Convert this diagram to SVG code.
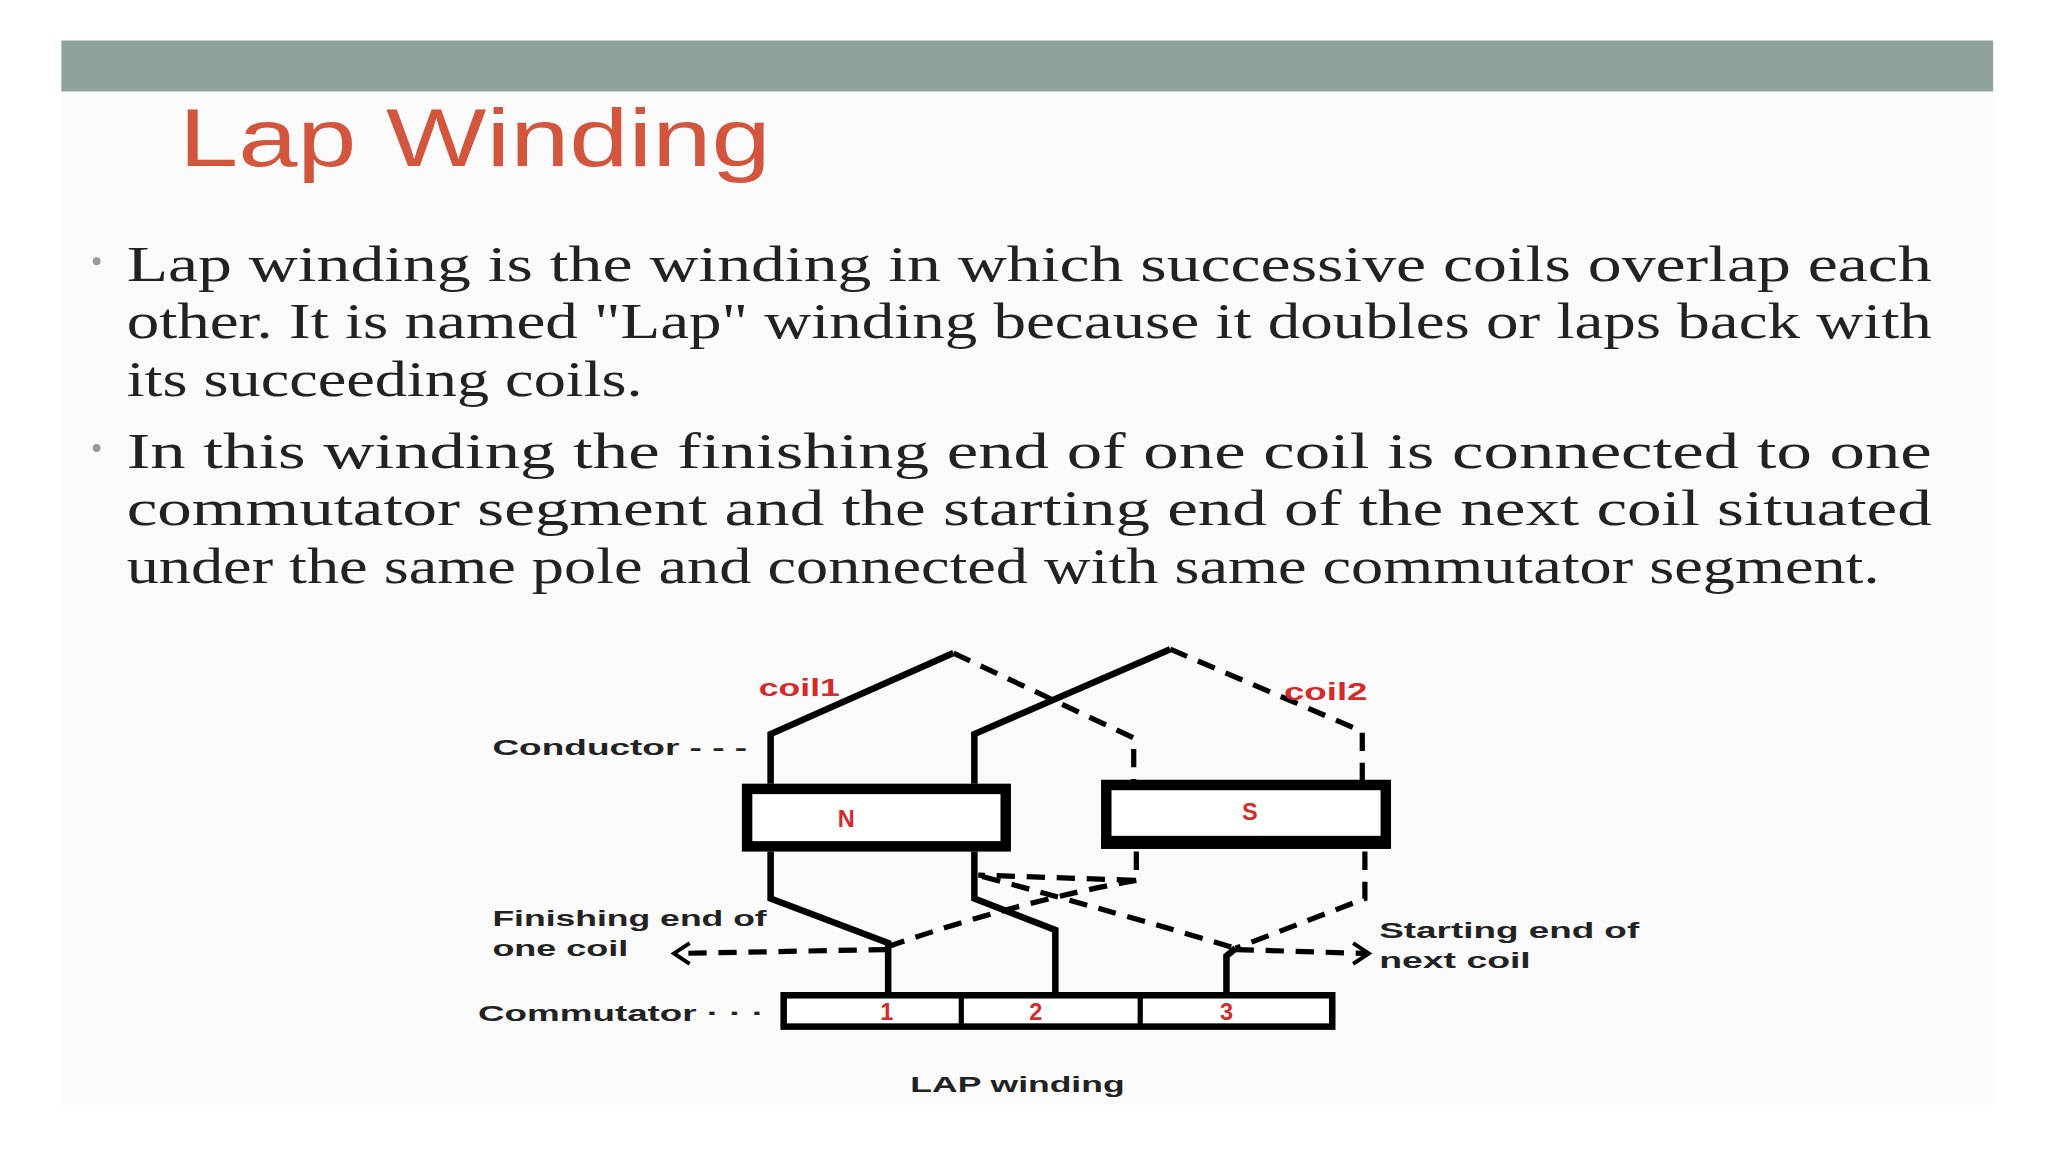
<svg xmlns="http://www.w3.org/2000/svg" width="2048" height="1152" viewBox="0 0 2048 1152">
<style>
.body{font-family:"Liberation Serif",serif;font-size:39px;fill:#222}
.lbl{font-family:"Liberation Sans",Arial,sans-serif;font-size:17px;font-weight:bold;fill:#222}
.red{font-family:"Liberation Sans",Arial,sans-serif;font-size:18px;font-weight:bold;fill:#d42a2a}
.s{fill:none;stroke:#000;stroke-width:5;stroke-linejoin:miter}
.d{fill:none;stroke:#000;stroke-width:4;stroke-dasharray:14 9}
</style>
<rect width="2048" height="1152" fill="#fff"/>
<g transform="scale(1.30612)">
<rect x="47" y="70" width="1479" height="776" fill="#fbfafa"/>
<rect x="47" y="31" width="1479" height="39" fill="#8fa39a"/>
<text x="137" y="127" font-family="'Liberation Sans',Arial,sans-serif" font-size="62" fill="#d2553d" textLength="453" lengthAdjust="spacingAndGlyphs">Lap Winding</text>
<circle cx="74" cy="200" r="3" fill="#999"/>
<circle cx="74" cy="343" r="3" fill="#999"/>
<text class="body" x="97" y="215" textLength="1382" lengthAdjust="spacingAndGlyphs">Lap winding is the winding in which successive coils overlap each</text>
<text class="body" x="97" y="259" textLength="1382" lengthAdjust="spacingAndGlyphs">other. It is named "Lap" winding because it doubles or laps back with</text>
<text class="body" x="97" y="303" textLength="395" lengthAdjust="spacingAndGlyphs">its succeeding coils.</text>
<text class="body" x="97" y="358" textLength="1382" lengthAdjust="spacingAndGlyphs">In this winding the finishing end of one coil is connected to one</text>
<text class="body" x="97" y="402" textLength="1382" lengthAdjust="spacingAndGlyphs">commutator segment and the starting end of the next coil situated</text>
<text class="body" x="97" y="446" textLength="1342" lengthAdjust="spacingAndGlyphs">under the same pole and connected with same commutator segment.</text>

<g id="connectors">
<polyline class="s" points="590,600 590,562 730,500"/>
<polyline class="d" points="730,500 868,565 868,600"/>
<polyline class="s" points="746,600 746,562 896,497"/>
<polyline class="d" points="896,497 1043,560 1043,600"/>
<polyline class="s" points="590,652 590,688 680,722 680,760"/>
<polyline class="s" points="746,652 746,688 808,712 808,760"/>
<polyline class="s" points="939,760 939,732 946,726"/>
<polyline class="d" points="870,652 870,674 749,670"/>
<path class="d" d="M870,674 Q780,690 679,725"/>
<path class="d" d="M752,671 Q860,700 946,726"/>
<polyline class="d" points="1045,652 1045,688 946,726"/>
<polyline class="d" points="679,727 518,730"/>
<polyline fill="none" stroke="#000" stroke-width="3" points="528,722 516,730 528,738"/>
<polyline class="d" points="946,727 1046,730"/>
<polyline fill="none" stroke="#000" stroke-width="3" points="1036,722 1048,730 1036,738"/>
</g>
<g id="poleN"><rect x="572" y="604" width="198" height="44" fill="#fff" stroke="#000" stroke-width="8"/><text class="red" x="648" y="633" text-anchor="middle">N</text></g>
<g id="poleS"><rect x="847" y="601" width="214" height="43" fill="#fff" stroke="#000" stroke-width="8"/><rect x="843" y="640" width="222" height="10"/><text class="red" x="957" y="628" text-anchor="middle">S</text></g>
<g id="commutator"><rect x="600" y="762" width="420" height="24" fill="#fff" stroke="#000" stroke-width="5"/>
<line x1="736" y1="762" x2="736" y2="786" stroke="#000" stroke-width="4"/><line x1="873" y1="762" x2="873" y2="786" stroke="#000" stroke-width="4"/>
<text class="red" x="679" y="781" text-anchor="middle">1</text><text class="red" x="793" y="781" text-anchor="middle">2</text><text class="red" x="939" y="781" text-anchor="middle">3</text></g>
<g id="labels">
<text class="red" x="581" y="533" textLength="62" lengthAdjust="spacingAndGlyphs">coil1</text>
<text class="red" x="983" y="536" textLength="64" lengthAdjust="spacingAndGlyphs">coil2</text>
<text class="lbl" x="377" y="578" textLength="195" lengthAdjust="spacingAndGlyphs">Conductor - - -</text>
<text class="lbl" x="377" y="709" textLength="210" lengthAdjust="spacingAndGlyphs">Finishing end of</text>
<text class="lbl" x="377" y="732" textLength="104" lengthAdjust="spacingAndGlyphs">one coil</text>
<text class="lbl" x="1056" y="718" textLength="199" lengthAdjust="spacingAndGlyphs">Starting end of</text>
<text class="lbl" x="1056" y="741" textLength="116" lengthAdjust="spacingAndGlyphs">next coil</text>
<text class="lbl" x="366" y="782" textLength="219" lengthAdjust="spacingAndGlyphs">Commutator · · ·</text>
<text class="lbl" x="697" y="836" textLength="164" lengthAdjust="spacingAndGlyphs">LAP winding</text>
</g>
</g>
</svg>
